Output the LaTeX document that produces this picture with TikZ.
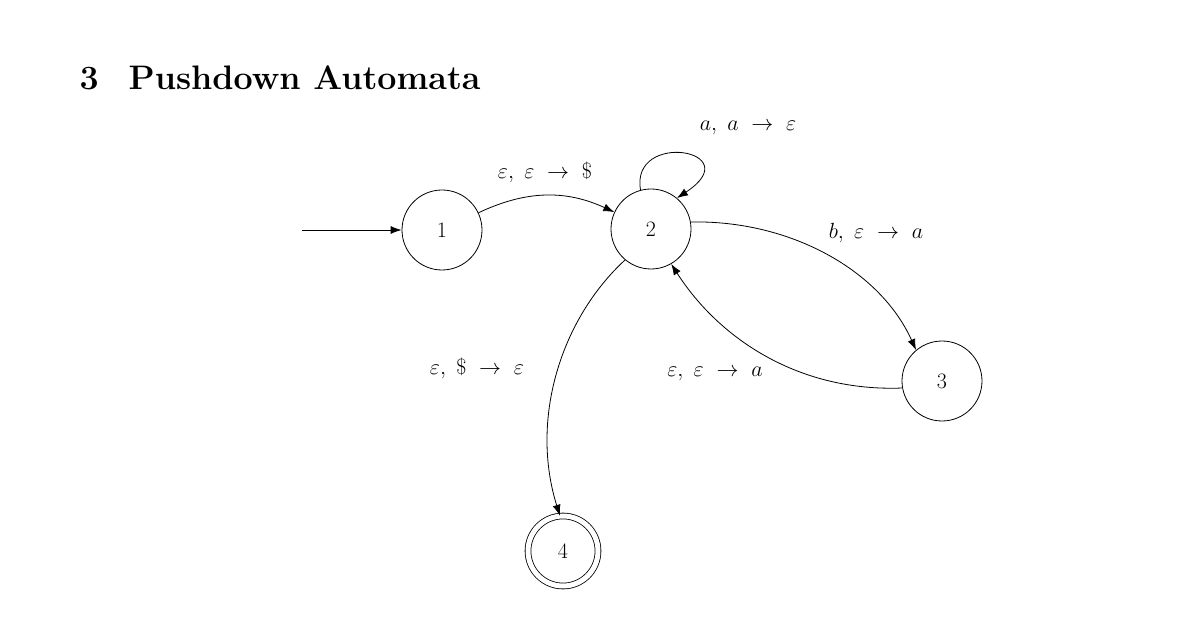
\RequirePackage{fix-cm}
\documentclass[tikz,border=0pt]{standalone}
\usetikzlibrary{arrows.meta}
\begin{document}
\begin{tikzpicture}[x=1pt,y=-1pt,
  st/.style={draw,circle,line width=0.8pt,minimum size=80pt,inner sep=0pt,font=\fontsize{22}{26}\selectfont},
  acc/.style={st,double,double distance=5pt,minimum size=70pt},
  lbl/.style={font=\fontsize{22}{26}\selectfont},
  tr/.style={-{Latex[length=11pt,width=8pt]},line width=0.8pt}]
\useasboundingbox (0,0) rectangle (1200,620);
\node[anchor=west,font=\fontsize{34}{40}\selectfont\bfseries] (title) at (76,78) {3\hspace{30pt}Pushdown Automata};
\node[st] (n1) at (442,230) {1};
\node[st] (n2) at (651,229) {2};
\node[st] (n3) at (942,381) {3};
\node[acc] (n4) at (563,551) {4};
\coordinate (start) at (302,230);
\draw[tr] (start) -- (n1);
\draw[tr] (n1) to[bend left=25] (n2);
\node[lbl] (l12) at (545,172) {$\varepsilon,\ \varepsilon\ \rightarrow\ \$$};
\draw[tr] (n2.105) .. controls (630,130) and (750,150) .. (n2.50);
\node[lbl] (l22) at (748,128) {$a,\ a\ \rightarrow\ \varepsilon$};
\draw[tr] (n2.10) .. controls (790,220) and (880,270) .. (n3.130);
\node[lbl] (l23) at (876,233) {$b,\ \varepsilon\ \rightarrow\ a$};
\draw[tr] (n3.190) .. controls (800,392) and (720,340) .. (n2.-60);
\node[lbl] (l32) at (715,374) {$\varepsilon,\ \varepsilon\ \rightarrow\ a$};
\draw[tr] (n2.-130) .. controls (560,320) and (530,420) .. (n4.95);
\node[lbl] (l24) at (477,368) {$\varepsilon,\ \$\ \rightarrow\ \varepsilon$};
\end{tikzpicture}
\end{document}
